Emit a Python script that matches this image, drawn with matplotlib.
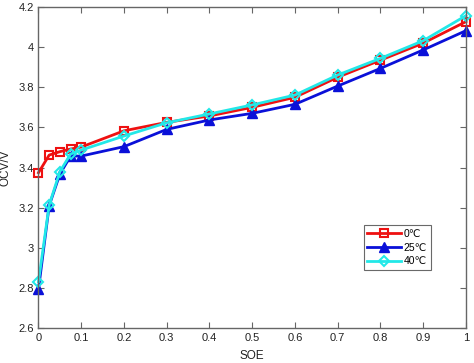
import matplotlib
matplotlib.use("Agg")
import matplotlib.pyplot as plt

plt.rcParams['font.family'] = ['Liberation Sans', 'DejaVu Sans']

# state of energy points
soe = [0, 0.025, 0.05, 0.075, 0.1, 0.2, 0.3, 0.4, 0.5, 0.6, 0.7, 0.8, 0.9, 1.0]

# open circuit voltage at each temperature
ocv_0 = [3.374, 3.462, 3.479, 3.492, 3.502, 3.583, 3.625, 3.657, 3.700, 3.750, 3.850, 3.935, 4.020, 4.127]
ocv_25 = [2.793, 3.210, 3.367, 3.457, 3.457, 3.504, 3.590, 3.637, 3.670, 3.715, 3.806, 3.894, 3.986, 4.082]
ocv_40 = [2.831, 3.213, 3.379, 3.467, 3.487, 3.557, 3.623, 3.667, 3.712, 3.761, 3.861, 3.944, 4.032, 4.157]

labels = ["0\u2103", "25\u2103", "40\u2103"]

fig = plt.figure(figsize=(4.74, 3.63), dpi=100)
ax = fig.add_axes([0.0812, 0.0964, 0.9018, 0.8843])

ax.plot(soe, ocv_0, color='#ee1111', lw=2, marker='s', ms=6,
        mfc='none', mec='#ee1111', mew=1.5, label=labels[0], clip_on=False)
ax.plot(soe, ocv_25, color='#0a10d8', lw=2, marker='^', ms=7,
        mfc='#0a10d8', mec='#0a10d8', label=labels[1], clip_on=False)
ax.plot(soe, ocv_40, color='#22e8e8', lw=2, marker='D', ms=5.5,
        mfc='none', mec='#22e8e8', mew=1.5, label=labels[2], clip_on=False)

ax.set_xlim(0, 1)
ax.set_ylim(2.6, 4.2)
ax.set_xticks([0, 0.1, 0.2, 0.3, 0.4, 0.5, 0.6, 0.7, 0.8, 0.9, 1])
ax.set_xticklabels(['0', '0.1', '0.2', '0.3', '0.4', '0.5', '0.6', '0.7', '0.8', '0.9', '1'])
ax.set_yticks([2.6, 2.8, 3, 3.2, 3.4, 3.6, 3.8, 4, 4.2])
ax.set_yticklabels(['2.6', '2.8', '3', '3.2', '3.4', '3.6', '3.8', '4', '4.2'])

for s in ax.spines.values():
    s.set_color('#666666')
    s.set_linewidth(1)
ax.tick_params(direction='in', length=4, width=0.8, colors='#666666',
               labelcolor='#222222', labelsize=8, top=True, right=True)

ax.set_xlabel("SOE", fontsize=8.5, color='#222222', labelpad=5)
ax.set_ylabel("OCV/V", fontsize=8.5, color='#222222', labelpad=5)

leg = ax.legend(loc='lower right', bbox_to_anchor=(0.93, 0.165), fontsize=7.5,
                frameon=True, fancybox=False, handlelength=3.2,
                borderpad=0.35, labelspacing=0.35, handletextpad=0.3)
leg.get_frame().set_edgecolor('#444444')
leg.get_frame().set_linewidth(0.8)

fig.savefig("out.png", dpi=100)
